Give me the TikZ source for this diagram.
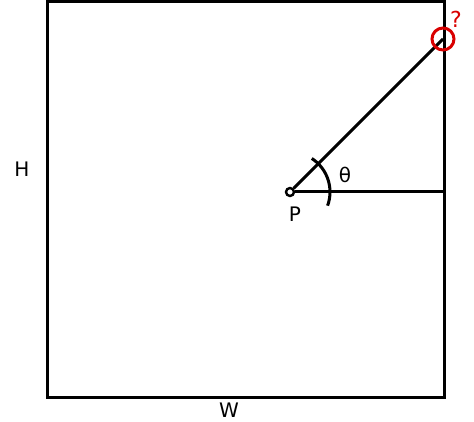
\documentclass[tikz,border=0pt]{standalone}
\usepackage{fontspec}
\setmainfont{DejaVu Sans}
\begin{document}
\begin{tikzpicture}[x=1pt,y=-1pt,
  edge/.style={line width=3pt,black},
  lbl/.style={font=\fontsize{20}{20}\selectfont,inner sep=0pt},
  redmark/.style={line width=3pt,draw=red!85!black}]
\useasboundingbox (0,0) rectangle (474,422);
\draw[edge] (47,2) rectangle (444,397);
\node[circle,draw,line width=2.4pt,minimum size=8pt,inner sep=0pt] (P) at (290,192) {};
\coordinate (T) at (443,39);
\coordinate (R) at (444,192);
\draw[edge] (P) -- (T);
\draw[edge] (P) -- (R);
\draw[edge] (P.center) ++(-57:40) arc[start angle=-57,end angle=20,radius=40];
\node[circle,redmark,minimum size=22pt,inner sep=0pt] (Q) at (T) {};
\node[lbl,text=red!85!black,font=\fontsize{22}{22}\selectfont] (q) at (456,19) {?};
\node[lbl] (th) at (345,175) {θ};
\node[lbl] (pl) at (295,214) {P};
\node[lbl] (H) at (22,169) {H};
\node[lbl] (W) at (229,410) {W};
\end{tikzpicture}
\end{document}
